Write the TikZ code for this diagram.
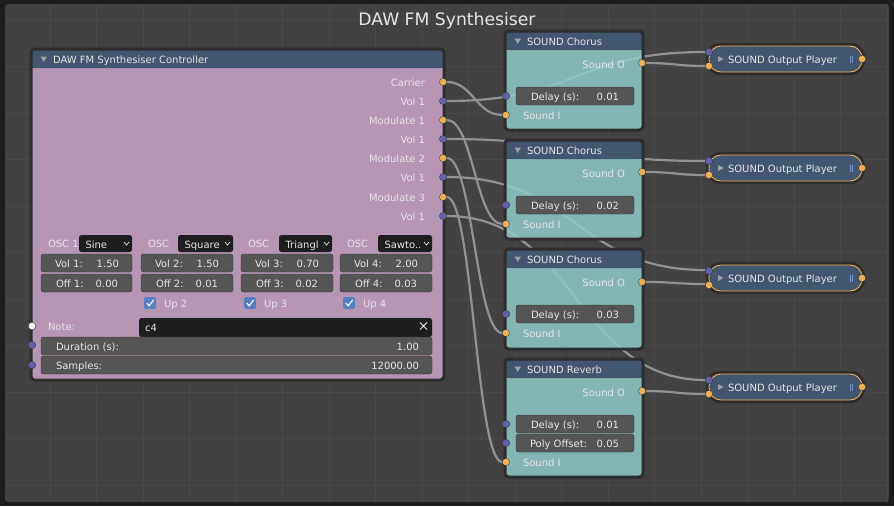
\documentclass[tikz,border=0pt]{standalone}
\usepackage{fontspec}
\setmainfont{DejaVu Sans}
\usetikzlibrary{calc}
\definecolor{bgouter}{HTML}{1D1D1D}
\definecolor{bgpanel}{HTML}{424242}
\definecolor{gridcol}{HTML}{4A4A4A}
\definecolor{edgecol}{HTML}{2E2E2E}
\definecolor{headcol}{HTML}{42566F}
\definecolor{mauve}{HTML}{CCA4CA}
\definecolor{teal2}{HTML}{90CACA}
\definecolor{btncol}{HTML}{555555}
\definecolor{darkbox}{HTML}{1E1E1E}
\definecolor{wirecol}{HTML}{929292}
\definecolor{sockY}{HTML}{EDB055}
\definecolor{sockB}{HTML}{6460B0}
\definecolor{labcol}{HTML}{E6E6E6}
\definecolor{selcol}{HTML}{EDB055}
\definecolor{chkcol}{HTML}{5680C2}
\tikzset{
  x=1pt, y=-1pt,
  every node/.style={font=\fontsize{10}{12}\selectfont, text=labcol, inner sep=0pt, outer sep=0pt,
    text height=9.6pt, text depth=0pt},
  sock/.style={circle, draw=black!75, line width=.5pt, minimum size=7.5pt, text height=0pt},
  sockyel/.style={sock, fill=sockY},
  sockblue/.style={sock, fill=sockB},
  sockwhite/.style={sock, fill=white},
  wire/.style={draw=wirecol, line width=2.2pt},
  btn/.style={rounded corners=2.5pt, fill=btncol, draw=black!35!btncol, line width=.4pt},
  menu/.style={rounded corners=2.5pt, fill=darkbox},
  hdtri/.style={fill=labcol!70!black},
}
% one node block: x1, x2, top, bottom, body colour, title, name
\newcommand{\nodeblock}[7]{
  \fill[#5, fill opacity=.85, rounded corners=2.5pt] (#1,#3) rectangle (#2,#4);
  \fill[headcol, rounded corners=2.5pt] (#1,#3) rectangle (#2,#3+18);
  \fill[headcol] (#1,#3+10) rectangle (#2,#3+18);
  \draw[edgecol, line width=3pt, rounded corners=3.5pt] (#1-1,#3-1) rectangle (#2+1,#4+1);
  \fill[hdtri] (#1+8.5,#3+6.5) -- (#1+15,#3+6.5) -- (#1+11.75,#3+12) -- cycle;
  \node[anchor=west] (#7) at (#1+21,#3+9) {#6};
}
\begin{document}
\begin{tikzpicture}
  \useasboundingbox (0,0) rectangle (894,506);
  \fill[bgouter] (0,0) rectangle (894,506);
  \fill[bgpanel, rounded corners=3pt] (5,4) rectangle (889,502);
  \begin{scope}
    \clip (5,4) rectangle (889,502);
    \foreach \gx in {50,96.5,...,889} \draw[gridcol, line width=.5pt] (\gx,4) -- (\gx,502);
    \foreach \gy in {20,66.5,...,502} \draw[gridcol, line width=.5pt] (5,\gy) -- (889,\gy);
  \end{scope}
  \node[font=\fontsize{17.2}{20}\selectfont, text=labcol, text height=12.6pt] (title) at (447,19) {DAW FM Synthesiser};

  % sockets first, so that wires can use their names
  \node[sockyel] (carrier) at (443,82) {};
  \foreach \sname/\sy/\sst in {vola/101/sockblue, moda/120/sockyel, volb/139/sockblue, modb/158/sockyel,
      volc/177/sockblue, modc/197/sockyel, vold/216/sockblue}
    \node[\sst] (\sname) at (443,\sy) {};
  \foreach \sname/\sy in {ina/115, inb/224, inc/333, ind/462}
    \node[sockyel] (\sname) at (506,\sy) {};
  \foreach \sname/\sy in {outa/63, outb/172, outc/282, outd/391}
    \node[sockyel] (\sname) at (642,\sy) {};
  \foreach \sname/\sy in {pa/52, pb/161, pc/270, pd/380}
    \node[sockblue] (\sname top) at (709,\sy) {};
  \foreach \sname/\sy in {pa/66, pb/175, pc/284, pd/394}
    \node[sockyel] (\sname bot) at (709,\sy) {};

  % wires go under the blocks
  \foreach \wa/\wb in {carrier/ina, moda/inb, modb/inc, modc/ind}
    \draw[wire] (\wa) .. controls ($(\wa)+(30,0)$) and ($(\wb)+(-30,0)$) .. (\wb);
  \foreach \wa/\wb in {vola/patop, volb/pbtop, volc/pctop, vold/pdtop}
    \draw[wire] (\wa) .. controls ($(\wa)+(133,0)$) and ($(\wb)+(-133,0)$) .. (\wb);
  \foreach \wa/\wb in {outa/pabot, outb/pbbot, outc/pcbot, outd/pdbot}
    \draw[wire] (\wa) .. controls ($(\wa)+(33,0)$) and ($(\wb)+(-33,0)$) .. (\wb);

  % controller
  \nodeblock{32}{443}{50}{379}{mauve}{DAW FM Synthesiser Controller}{ctrl}
  \foreach \sname/\sy/\stext in {carrier/82/Carrier, vola/101/Vol 1, moda/120/Modulate 1, volb/139/Vol 1,
      modb/158/Modulate 2, volc/177/Vol 1, modc/197/Modulate 3, vold/216/Vol 1}
    \node[anchor=east] (\sname lab) at (425,\sy) {\stext};
  \foreach \ox/\oa/\ob/\olab/\omenu/\okey in {41/79/132/OSC 1/Sine/a, 141/178/233/OSC/Square/b,
      241/279/332/OSC/Triangl/c, 340/378/432/OSC/Sawto../d}{
    \node[anchor=west] (osc\okey) at (\ox+7,243) {\olab};
    \fill[menu] (\oa,235) rectangle (\ob,252);
    \node[anchor=west] (menu\okey) at (\oa+6.5,243.5) {\omenu};
    \draw[labcol, line width=.7pt] (\ob-8,242) -- (\ob-5.5,245) -- (\ob-3,242);
  }
  \foreach \ox/\ow/\ovol/\ovolv/\ooff/\ooffv/\okey in {41/91/Vol 1:/1.50/Off 1:/0.00/a, 141/92/Vol 2:/1.50/Off 2:/0.01/b,
      241/92/Vol 3:/0.70/Off 3:/0.02/c, 340/92/Vol 4:/2.00/Off 4:/0.03/d}{
    \fill[btn] (\ox,254) rectangle (\ox+\ow,272);
    \node[anchor=west] (oscvol\okey) at (\ox+14,263) {\ovol};
    \node[anchor=east] (oscvolv\okey) at (\ox+78,263) {\ovolv};
    \fill[btn] (\ox,274) rectangle (\ox+\ow,292);
    \node[anchor=west] (oscoff\okey) at (\ox+15,283) {\ooff};
    \node[anchor=east] (oscoffv\okey) at (\ox+77,283) {\ooffv};
  }
  \foreach \cx/\clab/\ckey in {150/Up 2/b, 250/Up 3/c, 349/Up 4/d}{
    \fill[chkcol, rounded corners=1.5pt] (\cx-6,297) rectangle (\cx+6,309);
    \draw[white, line width=1.1pt] (\cx-3.2,303) -- (\cx-.8,305.8) -- (\cx+3.6,300);
    \node[anchor=west] (up\ckey) at (\cx+14,303) {\clab};
  }
  \node[sockwhite] (note) at (32,326) {};
  \node[sockblue] (dur) at (32,345) {};
  \node[sockblue] (samp) at (32,365) {};
  \node[anchor=west] (notelab) at (48,326) {Note:};
  \fill[menu] (139,318) rectangle (432,337);
  \node[anchor=west] (noteval) at (145,326.5) {c4};
  \draw[labcol, line width=.8pt] (420,322.5) -- (427,329.5) (427,322.5) -- (420,329.5);
  \fill[btn] (41,337) rectangle (432,355);
  \fill[btn] (41,356) rectangle (432,374);
  \node[anchor=west] (durlab) at (56,345.5) {Duration (s):};
  \node[anchor=east] (durval) at (419,345.5) {1.00};
  \node[anchor=west] (samplab) at (56,364.5) {Samples:};
  \node[anchor=east] (sampval) at (419,364.5) {12000.00};

  % effect blocks
  \foreach \ny/\nb/\ntitle/\nkey in {32/129/SOUND Chorus/a, 141/238/SOUND Chorus/b, 250/348/SOUND Chorus/c, 360/476/SOUND Reverb/d}{
    \nodeblock{506}{642}{\ny}{\nb}{teal2}{\ntitle}{blk\nkey}
    \node[anchor=east] (outlab\nkey) at (625,\ny+32) {Sound O};
  }
  \foreach \fy/\fval/\fkey in {96/0.01/a, 205/0.02/b, 314/0.03/c, 424/0.01/d}{
    \node[sockblue] (delay\fkey) at (506,\fy) {};
    \fill[btn] (516,\fy-9) rectangle (634,\fy+9);
    \node[anchor=west] (dlab\fkey) at (531,\fy) {Delay (s):};
    \node[anchor=east] (dval\fkey) at (619,\fy) {\fval};
  }
  \node[sockblue] (polyin) at (506,443) {};
  \fill[btn] (516,434) rectangle (634,452);
  \node[anchor=west] (polylab) at (530,443) {Poly Offset:};
  \node[anchor=east] (polyval) at (619,443) {0.05};
  \foreach \iy/\ikey in {115/a, 224/b, 333/c, 462/d}
    \node[anchor=west] (inlab\ikey) at (523,\iy) {Sound I};
  % sockets again on top of the blocks
  \foreach \sname in {ina, inb, inc, ind, outa, outb, outc, outd, carrier, moda, modb, modc, vola, volb, volc, vold}
    \fill[black!75] (\sname) circle (3.8pt);
  \foreach \sname in {ina, inb, inc, ind, outa, outb, outc, outd, carrier, moda, modb, modc}
    \fill[sockY] (\sname) circle (3.3pt);
  \foreach \sname in {vola, volb, volc, vold}
    \fill[sockB] (\sname) circle (3.3pt);

  % players
  \foreach \py/\pkey/\pname in {46/a/pa, 155/b/pb, 265/c/pc, 374/d/pd}{
    \fill[edgecol, rounded corners=14pt] (706,\py-3) rectangle (865,\py+29);
    \fill[headcol, draw=selcol, line width=.9pt, rounded corners=12pt] (709,\py) rectangle (862,\py+26);
    \fill[labcol!70!black] (718,\py+10) -- (718,\py+16) -- (723.5,\py+13) -- cycle;
    \node[anchor=west] (plab\pkey) at (728,\py+13) {SOUND Output Player};
    \draw[chkcol!80!white, line width=.7pt] (850,\py+9.5) -- (850,\py+16.5) (852.5,\py+9.5) -- (852.5,\py+16.5);
    \node[sockblue] at (709,\py+6) {};
    \node[sockyel] at (709,\py+20) {};
    \node[sockyel] (pout\pkey) at (862,\py+13) {};
  }
\end{tikzpicture}
\end{document}
